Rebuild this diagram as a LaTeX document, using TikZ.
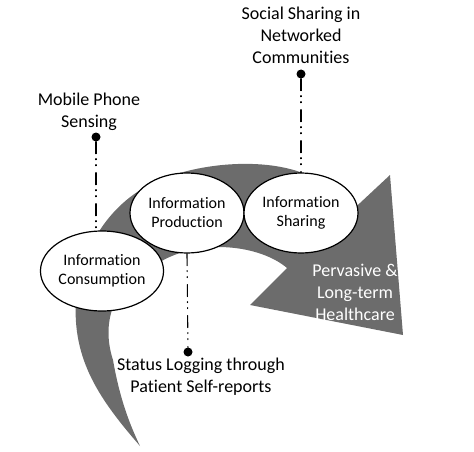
\documentclass[tikz,border=0pt]{standalone}
\usepackage{fontspec}
\setmainfont{Carlito}[Ligatures=CommonOff]
\usepackage{tikz}
\usetikzlibrary{shapes.geometric,positioning}
\definecolor{bandgray}{RGB}{108,108,108}

\begin{document}
\begin{tikzpicture}[x=1pt,y=-1pt,line cap=round,line join=round,
    infobubble/.style={ellipse,draw=black,fill=white,line width=1.2pt,minimum width=114pt,minimum height=80pt,inner sep=0pt,align=center,font=\fontsize{16}{19}\selectfont},
    sourcelabel/.style={align=center,inner sep=0pt,font=\fontsize{18}{22}\selectfont},
    anchordot/.style={circle,fill=black,minimum size=9pt,inner sep=0pt},
    dashdotdot/.style={line width=1.1pt,dash pattern=on 12pt off 5pt on 1pt off 5pt on 1pt off 7pt}]

    \useasboundingbox (0,0) rectangle (474,452);

    % --- Curved arrow ---
    \fill[bandgray] (140,446) .. controls (100,400) and (72,360) .. (76,300)
        .. controls (80,250) and (110,200) .. (160,180)
        .. controls (200,163) and (260,158) .. (300,172)
        -- (345,217) -- (390,175) -- (403,335) -- (250,305) -- (287,268)
        .. controls (260,245) and (200,238) .. (160,262)
        .. controls (115,280) and (100,320) .. (113,360)
        .. controls (120,400) and (130,425) .. (140,446) -- cycle;

    % --- Stages ---
    \node[infobubble] (cons) at (102,271) {Information\\Consumption};
    \node[infobubble] (prod) at (187,213) {Information\\Production};
    \node[infobubble] (shar) at (301,213) {Information\\Sharing};

    \node[sourcelabel,text=white] (care) at (355,292) {Pervasive \&\\Long-term\\Healthcare};

    % --- Sources ---
    \node[anchordot] (mobdot) at (96,137) {};
    \node[anchordot] (socdot) at (301,74) {};
    \node[anchordot] (statdot) at (188,352) {};

    \node[sourcelabel] (mob) at (89,112) {Mobile Phone\\Sensing};
    \node[sourcelabel] (soc) at (301,35) {Social Sharing in\\Networked\\Communities};
    \node[sourcelabel] (stat) at (201,377) {Status Logging through\\Patient Self-reports};

    % Dash-dot connectors
    \draw[dashdotdot] (mobdot) -- (mobdot |- cons.north);
    \draw[dashdotdot] (socdot) -- (shar.north);
    \draw[dashdotdot] (prod.south) -- (statdot);

\end{tikzpicture}
\end{document}
